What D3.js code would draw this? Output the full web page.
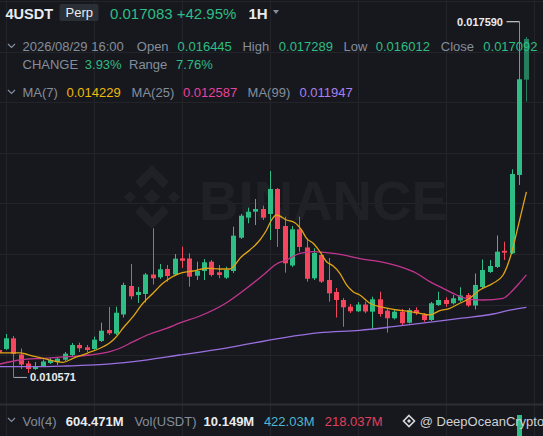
<!DOCTYPE html>
<html><head><meta charset="utf-8">
<script src="https://cdn.jsdelivr.net/npm/d3@7"></script>
<style>
html,body{margin:0;padding:0;background:#17181d;overflow:hidden}
svg{display:block}
text{font-family:"Liberation Sans",Arial,sans-serif}
</style></head>
<body>
<svg id="c" width="543" height="436"></svg>
<script>
// ---------- DATA ----------
const firstIndex = -1;
const open  = [0.011103,0.011123,0.011334,0.011014,0.010836,0.010727,0.010773,0.010846,0.010866,0.010911,0.011004,0.011202,0.011156,0.011123,0.011281,0.011498,0.011425,0.011805,0.012368,0.012190,0.012210,0.012595,0.012540,0.012704,0.012595,0.012915,0.012911,0.012571,0.012664,0.012848,0.012639,0.012532,0.012664,0.013322,0.013718,0.013836,0.013889,0.013791,0.014285,0.013553,0.012773,0.013488,0.013129,0.012520,0.012980,0.012486,0.012249,0.012091,0.011959,0.011868,0.012002,0.011860,0.012105,0.011880,0.011730,0.011860,0.011642,0.011893,0.011795,0.011696,0.011992,0.012091,0.012026,0.012081,0.012190,0.011982,0.012348,0.012644,0.012743,0.013063,0.013014,0.014562,0.016445];
const high  = [0.011142,0.011419,0.011380,0.011133,0.010886,0.010866,0.010915,0.010945,0.010965,0.011063,0.011241,0.011247,0.011202,0.011366,0.011642,0.011953,0.011959,0.012433,0.012803,0.012348,0.012625,0.013508,0.012803,0.012783,0.013000,0.013144,0.013014,0.012848,0.012901,0.012882,0.012783,0.012749,0.013540,0.013791,0.013915,0.014087,0.013955,0.014641,0.014305,0.013737,0.013553,0.013737,0.013311,0.013113,0.013046,0.012921,0.012328,0.012131,0.012012,0.012052,0.012058,0.012156,0.012255,0.011927,0.011907,0.011913,0.011933,0.011947,0.011828,0.012052,0.012255,0.012144,0.012190,0.012342,0.012229,0.012615,0.012891,0.012882,0.013366,0.013243,0.014674,0.017590,0.017289];
const low   = [0.011004,0.011103,0.010571,0.010727,0.010648,0.010708,0.010767,0.010826,0.010807,0.010886,0.010984,0.011063,0.011063,0.011103,0.011261,0.011399,0.011399,0.011745,0.012105,0.012032,0.012042,0.012397,0.012506,0.012453,0.012565,0.012724,0.012354,0.012486,0.012486,0.012556,0.012520,0.012506,0.012625,0.013297,0.013607,0.013573,0.013672,0.013277,0.013139,0.012631,0.012743,0.013046,0.012453,0.012486,0.012427,0.012058,0.011745,0.011563,0.011834,0.011854,0.011828,0.011512,0.011761,0.011445,0.011706,0.011597,0.011627,0.011795,0.011662,0.011676,0.011973,0.011959,0.012002,0.012052,0.011953,0.011903,0.012328,0.012625,0.012724,0.012882,0.013000,0.014364,0.016012];
const close = [0.011050,0.011334,0.011024,0.010816,0.010727,0.010777,0.010876,0.010905,0.010931,0.011030,0.011202,0.011137,0.011103,0.011307,0.011484,0.011433,0.011840,0.012388,0.012164,0.012249,0.012595,0.012520,0.012698,0.012565,0.012908,0.012866,0.012552,0.012664,0.012836,0.012585,0.012585,0.012684,0.013362,0.013757,0.013836,0.013889,0.013718,0.014285,0.013494,0.012816,0.013488,0.013139,0.012510,0.013020,0.012453,0.012223,0.012091,0.011947,0.011868,0.012002,0.011864,0.012105,0.011814,0.011730,0.011860,0.011631,0.011893,0.011828,0.011696,0.012026,0.012091,0.012012,0.012125,0.012180,0.011982,0.012388,0.012684,0.012763,0.013046,0.013026,0.014581,0.016453,0.017250];

// moving averages: position (candle index) and value
const ma7Pos  = [-0.82,1.91,3.68,5.05,7.77,9.14,11.05,12.82,14.18,14.86,15.95,17.32,18.68,20.05,21.41,23.73,25.54,27.37,29.18,30.55,31.23,31.91,33.27,34.64,35.55,36.23,36.91,38.28,39.41,40.32,41.0,41.91,42.82,43.73,44.64,45.55,46.46,47.36,48.27,49.64,51.0,52.82,55.09,56.46,57.82,59.18,60.55,61.91,63.27,64.64,66.45,67.82,68.96,69.86,71.0];
const ma7Val  = [0.011044,0.011044,0.010984,0.010939,0.010860,0.010939,0.011038,0.011137,0.011247,0.011334,0.011532,0.011761,0.012026,0.012224,0.012421,0.012619,0.012664,0.012718,0.012704,0.012704,0.012783,0.012915,0.013079,0.013277,0.013475,0.013672,0.013771,0.013672,0.013619,0.013475,0.013310,0.013212,0.013046,0.012848,0.012763,0.012619,0.012388,0.012255,0.012190,0.012026,0.011959,0.011907,0.011860,0.011828,0.011795,0.011880,0.011927,0.012026,0.012125,0.012289,0.012421,0.012585,0.013014,0.013540,0.014229];
const ma25Pos = [-0.82,1.91,5.09,8.28,11.46,14.18,15.55,17.36,19.64,21.91,23.73,26.46,30.09,32.82,35.09,36.91,38.28,40.09,41.91,43.73,46.0,48.27,51.0,53.73,56.0,57.82,59.64,61.46,63.27,65.09,67.82,69.18,70.09,71.0];
const ma25Val = [0.010826,0.010905,0.010939,0.010970,0.011004,0.011069,0.011137,0.011267,0.011419,0.011532,0.011637,0.011775,0.012038,0.012322,0.012585,0.012803,0.012882,0.013014,0.013046,0.013026,0.012981,0.012907,0.012848,0.012749,0.012619,0.012453,0.012322,0.012190,0.012105,0.012091,0.012125,0.012289,0.012433,0.012587];
const ma99Pos = [-0.82,3.68,8.28,12.82,17.36,23.73,30.55,37.37,42.82,48.27,52.82,57.37,61.91,66.45,68.73,71.0];
const ma99Val = [0.010773,0.010773,0.010787,0.010812,0.010872,0.011004,0.011156,0.011334,0.011445,0.011492,0.011563,0.011642,0.011729,0.011814,0.011893,0.011947];

const priceTicks = [0.011,0.012,0.013,0.014,0.015,0.016,0.017,0.018];
const gridIndex  = [0,12,24,36,48,60,72];
const volIndex = [70];
const volValue = [1500];

const maxPoint = {i:70, v:"0.017590"};
const minPoint = {i:1,  v:"0.010571"};

// ---------- SCALES ----------
const W = 543, H = 436;
const svg = d3.select("#c");
const x = d3.scaleLinear().domain([0, 71]).range([6, 526.4]);
const y = d3.scaleLinear().domain([0.011, 0.017]).range([355.2, 51.6]);
const yVol = d3.scaleLinear().domain([0, 1500]).range([470, 415]);

const GREEN = "#2ebd85", RED = "#f6465d", GRAY = "#848e9c", WHITE = "#eaecef";

svg.append("rect").attr("width", W).attr("height", H).attr("fill", "#17181d");

// grid
const grid = svg.append("g").attr("stroke", "#222429").attr("stroke-width", 1);
grid.selectAll("line.h").data(priceTicks).join("line")
  .attr("x1", 0).attr("x2", W)
  .attr("y1", d => Math.round(y(d)) + 0.5).attr("y2", d => Math.round(y(d)) + 0.5);
grid.selectAll("line.v").data(gridIndex).join("line")
  .attr("y1", 0).attr("y2", H)
  .attr("x1", d => Math.round(x(d)) + 0.5).attr("x2", d => Math.round(x(d)) + 0.5);

// watermark
const wm = svg.append("g").attr("fill", "#1f2127");
const lc = {cx: 152, cy: 197};
function diamond(cx, cy, r) { return `M${cx},${cy-r}L${cx+r},${cy}L${cx},${cy+r}L${cx-r},${cy}Z`; }
wm.append("path").attr("d", diamond(lc.cx, lc.cy, 8));
wm.append("path").attr("d", diamond(lc.cx - 22, lc.cy, 6));
wm.append("path").attr("d", diamond(lc.cx + 22, lc.cy, 6));
// chevrons top & bottom
wm.append("path").attr("d", `M${lc.cx},${lc.cy-32}L${lc.cx+17},${lc.cy-15}L${lc.cx+11},${lc.cy-9}L${lc.cx},${lc.cy-20}L${lc.cx-11},${lc.cy-9}L${lc.cx-17},${lc.cy-15}Z`);
wm.append("path").attr("d", `M${lc.cx},${lc.cy+32}L${lc.cx+17},${lc.cy+15}L${lc.cx+11},${lc.cy+9}L${lc.cx},${lc.cy+20}L${lc.cx-11},${lc.cy+9}L${lc.cx-17},${lc.cy+15}Z`);
wm.append("text").attr("x", 199).attr("y", 220).attr("font-size", 55).attr("font-weight", 700)
  .attr("textLength", 249).attr("lengthAdjust", "spacingAndGlyphs").text("BINANCE");

// candles
const data = open.map((o, k) => ({i: k + firstIndex, o, h: high[k], l: low[k], c: close[k]}));
const cg = svg.append("g");
const last = data[data.length - 1].i;
const cs = cg.selectAll("g").data(data).join("g")
  .attr("fill", d => d.c >= d.o ? GREEN : RED)
  .attr("stroke", d => d.c >= d.o ? GREEN : RED)
  .attr("opacity", d => d.i === last ? 0.62 : 1);
cs.append("line")
  .attr("x1", d => Math.round(x(d.i)) + 0.5).attr("x2", d => Math.round(x(d.i)) + 0.5)
  .attr("y1", d => y(d.h)).attr("y2", d => y(d.l)).attr("stroke-width", 1);
cs.append("rect")
  .attr("x", d => Math.round(x(d.i)) - 2).attr("width", 5)
  .attr("y", d => y(Math.max(d.o, d.c)))
  .attr("height", d => Math.max(1, Math.abs(y(d.o) - y(d.c))))
  .attr("stroke", "none");

// MA lines
function maLine(pos, val, color) {
  const pts = pos.map((p, k) => [x(p), y(val[k])]);
  svg.append("path").attr("d", d3.line().curve(d3.curveMonotoneX)(pts))
    .attr("fill", "none").attr("stroke", color).attr("stroke-width", 1.3);
}
maLine(ma99Pos, ma99Val, "#9a6fe0");
maLine(ma25Pos, ma25Val, "#c2368f");
maLine(ma7Pos, ma7Val, "#e0a416");

// max / min labels
{
  const mx = Math.round(x(maxPoint.i)) + 0.5, my = y(+maxPoint.v);
  svg.append("line").attr("x1", 506.5).attr("x2", mx).attr("y1", my).attr("y2", my).attr("stroke", WHITE);
  svg.append("text").attr("x", 503).attr("y", my + 4).attr("text-anchor", "end")
    .attr("font-size", 11).attr("font-weight", 700).attr("fill", WHITE).text(maxPoint.v);
  const nx = Math.round(x(minPoint.i)) + 0.5, ny = y(+minPoint.v);
  svg.append("line").attr("x1", nx).attr("x2", 27).attr("y1", ny + 0.5).attr("y2", ny + 0.5).attr("stroke", "#aab0b8");
  svg.append("text").attr("x", 30).attr("y", ny + 4.5)
    .attr("font-size", 11).attr("font-weight", 700).attr("fill", WHITE).text(minPoint.v);
}

// header
function txt(xp, yp, s, color, size, weight) {
  return svg.append("text").attr("x", xp).attr("y", yp).attr("fill", color)
    .attr("font-size", size).attr("font-weight", weight || 400).text(s);
}
txt(5.5, 19, "4USDT", WHITE, 14.5, 700);
svg.append("rect").attr("x", 59.5).attr("y", 4).attr("width", 39).attr("height", 17).attr("rx", 2).attr("fill", "#2b2f36");
txt(65.5, 17, "Perp", WHITE, 13);
txt(110, 19, "0.017083 +42.95%", GREEN, 15);
txt(248.5, 19, "1H", WHITE, 15, 700);
svg.append("path").attr("d", "M273,10L279,10L276,14Z").attr("fill", GRAY);

function chev(yc) {
  svg.append("path").attr("d", `M8,${yc-2}L11.5,${yc+1.5}L15,${yc-2}`).attr("fill", "none").attr("stroke", GRAY).attr("stroke-width", 1.2);
}
chev(46); chev(92); chev(420);
const r2 = 50.5;
txt(22.5, r2, "2026/08/29 16:00", GRAY, 13);
txt(136.8, r2, "Open", GRAY, 13); txt(177.6, r2, "0.016445", GREEN, 13);
txt(242.4, r2, "High", GRAY, 13); txt(278.8, r2, "0.017289", GREEN, 13);
txt(343.5, r2, "Low", GRAY, 13); txt(375.7, r2, "0.016012", GREEN, 13);
txt(440.8, r2, "Close", GRAY, 13); txt(483.3, r2, "0.017092", GREEN, 13);
const r3 = 68.5;
txt(22.5, r3, "CHANGE", GRAY, 13); txt(84.8, r3, "3.93%", GREEN, 13);
txt(129, r3, "Range", GRAY, 13); txt(176, r3, "7.76%", GREEN, 13);
const r4 = 96.5;
txt(22.5, r4, "MA(7)", GRAY, 13); txt(66.5, r4, "0.014229", "#f0b90b", 13);
txt(131.6, r4, "MA(25)", GRAY, 13); txt(183, r4, "0.012587", "#e8419f", 13);
txt(247.6, r4, "MA(99)", GRAY, 13); txt(299.5, r4, "0.011947", "#a97ff0", 13);

// volume pane
svg.append("line").attr("x1", 0).attr("x2", W).attr("y1", 404.5).attr("y2", 404.5).attr("stroke", "#2b2e35").attr("stroke-width", 2);
svg.append("g").selectAll("rect").data(volIndex).join("rect")
  .attr("x", d => Math.round(x(d)) - 2).attr("width", 5)
  .attr("y", (d, k) => yVol(volValue[k])).attr("height", (d, k) => yVol(0) - yVol(volValue[k]))
  .attr("fill", GREEN);
const r5 = 426;
txt(22.5, r5, "Vol(4)", GRAY, 13);
txt(65.8, r5, "604.471M", WHITE, 13, 700);
txt(134.4, r5, "Vol(USDT)", GRAY, 13);
txt(203.6, r5, "10.149M", WHITE, 13, 700);
txt(263.9, r5, "422.03M", "#4db6d0", 13);
txt(324.8, r5, "218.037M", "#e0405e", 13);
// credit
const ic = svg.append("g").attr("fill", "none").attr("stroke", "#d5d8dc").attr("stroke-width", 1.6);
ic.append("path").attr("d", diamond(409, 421, 5.5));
svg.append("path").attr("d", diamond(409, 421, 2)).attr("fill", "#d5d8dc");
svg.append("text").attr("x", 419.7).attr("y", r5).attr("fill", "#cdd1d6")
  .attr("font-size", 13).attr("font-family", "'Open Sans',sans-serif").text("@ DeepOceanCrypto");
</script>
</body></html>
